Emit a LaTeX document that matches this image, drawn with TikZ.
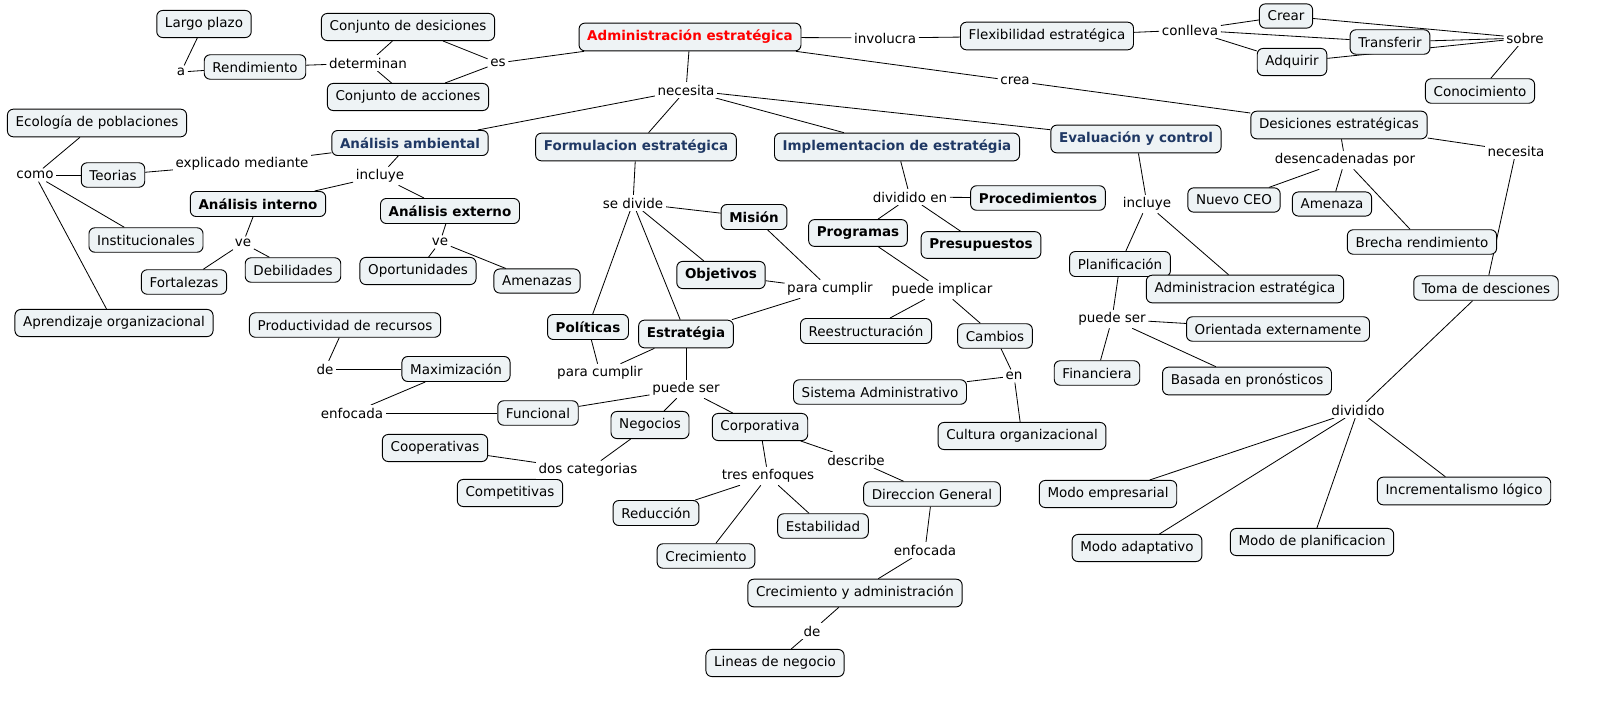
\documentclass[tikz,border=0pt]{standalone}
\usepackage{fontspec}
\setmainfont{DejaVu Sans}
\usetikzlibrary{backgrounds}
\begin{document}
\begin{tikzpicture}[x=0.03cm,y=-0.03cm,
 every node/.style={font=\fontsize{11.5}{13}\selectfont},
 bx/.style={draw,rounded corners=5pt,fill=boxfill,inner xsep=7pt,inner ysep=6pt,line width=0.8pt},
 bb/.style={bx,font=\fontsize{11.5}{13}\selectfont\bfseries},
 bl/.style={bx,font=\fontsize{11.5}{13}\selectfont\bfseries,text=blueT},
 lb/.style={fill=white,inner sep=2pt},
 every path/.style={line width=0.7pt}]
\definecolor{boxfill}{HTML}{EEF3F5}
\definecolor{blueT}{HTML}{1F3864}
\useasboundingbox (0,0) rectangle (1600,700);
% boxes
\node[bx,font=\fontsize{11.5}{13}\selectfont\bfseries,text=red] (adm) at (690,37) {Administración estratégica};
\node[bx] (flex) at (1047,36) {Flexibilidad estratégica};
\node[bx] (crear) at (1286,16) {Crear};
\node[bx] (transf) at (1390,42) {Transferir};
\node[bx] (adq) at (1292,62) {Adquirir};
\node[bx] (conoc) at (1480,91) {Conocimiento};
\node[bx] (largo) at (204,24) {Largo plazo};
\node[bx] (cds) at (408,27) {Conjunto de desiciones};
\node[bx] (rend) at (255,67) {Rendimiento};
\node[bx] (cda) at (408,97) {Conjunto de acciones};
\node[bx] (ecol) at (97,123) {Ecología de poblaciones};
\node[bl] (aamb) at (410,143) {Análisis ambiental};
\node[bl] (form) at (636,147) {Formulacion estratégica};
\node[bl] (impl) at (897,147) {Implementacion de estratégia};
\node[bl] (eval) at (1136,139) {Evaluación y control};
\node[bx] (dese) at (1339,125) {Desiciones estratégicas};
\node[bx] (teorias) at (113,175) {Teorias};
\node[bb] (aint) at (258,204) {Análisis interno};
\node[bb] (aext) at (450,211) {Análisis externo};
\node[bx] (inst) at (146,240) {Institucionales};
\node[bx] (fort) at (184,282) {Fortalezas};
\node[bx] (debil) at (293,270) {Debilidades};
\node[bx] (oport) at (418,271) {Oportunidades};
\node[bx] (amen) at (537,281) {Amenazas};
\node[bx] (aprend) at (114,323) {Aprendizaje organizacional};
\node[bx] (prod) at (345,325) {Productividad de recursos};
\node[bx] (max) at (456,369) {Maximización};
\node[bx] (func) at (538,413) {Funcional};
\node[bb] (mision) at (754,217) {Misión};
\node[bb] (obj) at (721,275) {Objetivos};
\node[bb] (polit) at (588,327) {Políticas};
\node[bb] (estr) at (686,334) {Estratégia};
\node[bb] (proced) at (1038,198) {Procedimientos};
\node[bb] (progr) at (858,233) {Programas};
\node[bb] (presup) at (981,245) {Presupuestos};
\node[bx] (reestr) at (866,331) {Reestructuración};
\node[bx] (cambios) at (995,336) {Cambios};
\node[bx] (sisadm) at (880,392) {Sistema Administrativo};
\node[bx] (cultura) at (1022,436) {Cultura organizacional};
\node[bx] (nuevo) at (1234,200) {Nuevo CEO};
\node[bx] (amenaza) at (1332,204) {Amenaza};
\node[bx] (brecha) at (1422,242) {Brecha rendimiento};
\node[bx] (planif) at (1120,264) {Planificación};
\node[bx] (admest2) at (1245,289) {Administracion estratégica};
\node[bx] (toma) at (1486,288) {Toma de desciones};
\node[bx] (orient) at (1278,329) {Orientada externamente};
\node[bx] (finan) at (1097,373) {Financiera};
\node[bx] (basada) at (1247,381) {Basada en pronósticos};
\node[bx] (negocios) at (650,425) {Negocios};
\node[bx] (corp) at (760,427) {Corporativa};
\node[bx] (coop) at (435,448) {Cooperativas};
\node[bx] (compet) at (510,493) {Competitivas};
\node[bx] (reduc) at (656,513) {Reducción};
\node[bx] (estab) at (823,526) {Estabilidad};
\node[bx] (crec) at (706,556) {Crecimiento};
\node[bx] (dirg) at (932,494) {Direccion General};
\node[bx] (crecadm) at (855,593) {Crecimiento y administración};
\node[bx] (lineas) at (775,663) {Lineas de negocio};
\node[bx] (modemp) at (1108,494) {Modo empresarial};
\node[bx] (modad) at (1137,548) {Modo adaptativo};
\node[bx] (modplan) at (1312,542) {Modo de planificacion};
\node[bx] (incr) at (1464,491) {Incrementalismo lógico};
% labels
\node[lb] (involucra) at (885,38) {involucra};
\node[lb] (conlleva) at (1190,30) {conlleva};
\node[lb] (sobre) at (1525,38) {sobre};
\node[lb] (crea) at (1015,81) {crea};
\node[lb] (es) at (498,63) {es};
\node[lb] (determinan) at (368,63) {determinan};
\node[lb] (a) at (181,72) {a};
\node[lb] (necesita) at (686,90) {necesita};
\node[lb] (explic) at (242,164) {explicado mediante};
\node[lb] (como) at (35,175) {como};
\node[lb] (incluye) at (380,176) {incluye};
\node[lb] (ve1) at (243,243) {ve};
\node[lb] (ve2) at (440,242) {ve};
\node[lb] (sediv) at (633,203) {se divide};
\node[lb] (divid) at (910,197) {dividido en};
\node[lb] (incluye2) at (1147,204) {incluye};
\node[lb] (desenc) at (1345,160) {desencadenadas por};
\node[lb] (necesita2) at (1516,151) {necesita};
\node[lb] (pcump1) at (830,289) {para cumplir};
\node[lb] (pimpl) at (942,290) {puede implicar};
\node[lb] (pser1) at (1112,319) {puede ser};
\node[lb] (pcump2) at (600,373) {para cumplir};
\node[lb] (pser2) at (686,389) {puede ser};
\node[lb] (de1) at (325,369) {de};
\node[lb] (enf1) at (352,413) {enfocada};
\node[lb] (en) at (1014,376) {en};
\node[lb] (doscat) at (588,470) {dos categorias};
\node[lb] (tres) at (768,476) {tres enfoques};
\node[lb] (describe) at (856,460) {describe};
\node[lb] (enf2) at (925,550) {enfocada};
\node[lb] (de2) at (812,631) {de};
\node[lb] (dividido) at (1358,410) {dividido};
% connectors
\begin{scope}[on background layer]
\draw (adm) -- (involucra) -- (flex);
\draw (flex) -- (conlleva);
\foreach \n in {crear,transf,adq} {\draw (conlleva) -- (\n); \draw (\n) -- (sobre);}
\draw (sobre) -- (conoc);
\draw (adm) -- (crea) -- (dese);
\draw (adm) -- (es); \draw (es) -- (cds); \draw (es) -- (cda);
\draw (cds) -- (determinan); \draw (cda) -- (determinan); \draw (determinan) -- (rend);
\draw (rend) -- (a); \draw (a) -- (largo);
\draw (adm) -- (necesita);
\foreach \n in {aamb,form,impl,eval} \draw (necesita) -- (\n);
\draw (aamb) -- (explic) -- (teorias);
\draw (teorias) -- (como);
\foreach \n in {ecol,inst,aprend} \draw (como) -- (\n);
\draw (aamb) -- (incluye); \draw (incluye) -- (aint); \draw (incluye) -- (aext);
\draw (aint) -- (ve1); \draw (ve1) -- (fort); \draw (ve1) -- (debil);
\draw (aext) -- (ve2); \draw (ve2) -- (oport); \draw (ve2) -- (amen);
\draw (form) -- (sediv);
\foreach \n in {mision,obj,polit,estr} \draw (sediv) -- (\n);
\draw (mision) -- (pcump1); \draw (obj) -- (pcump1); \draw (pcump1) -- (estr);
\draw (polit) -- (pcump2); \draw (estr) -- (pcump2);
\draw (estr) -- (pser2);
\foreach \n in {func,negocios,corp} \draw (pser2) -- (\n);
\draw (func) -- (enf1); \draw (enf1) -- (max); \draw (max) -- (de1); \draw (de1) -- (prod);
\draw (negocios) -- (doscat); \draw (doscat) -- (coop); \draw (doscat) -- (compet);
\draw (corp) -- (tres);
\foreach \n in {reduc,estab,crec} \draw (tres) -- (\n);
\draw (corp) -- (describe) -- (dirg);
\draw (dirg) -- (enf2) -- (crecadm);
\draw (crecadm) -- (de2) -- (lineas);
\draw (impl) -- (divid);
\foreach \n in {proced,progr,presup} \draw (divid) -- (\n);
\draw (progr) -- (pimpl); \draw (pimpl) -- (reestr); \draw (pimpl) -- (cambios);
\draw (cambios) -- (en); \draw (en) -- (sisadm); \draw (en) -- (cultura);
\draw (eval) -- (incluye2); \draw (incluye2) -- (planif); \draw (incluye2) -- (admest2);
\draw (planif) -- (pser1);
\foreach \n in {orient,finan,basada} \draw (pser1) -- (\n);
\draw (dese) -- (desenc);
\foreach \n in {nuevo,amenaza,brecha} \draw (desenc) -- (\n);
\draw (dese) -- (necesita2) -- (toma);
\draw (toma) -- (dividido);
\foreach \n in {modemp,modad,modplan,incr} \draw (dividido) -- (\n);
\end{scope}
\end{tikzpicture}
\end{document}
